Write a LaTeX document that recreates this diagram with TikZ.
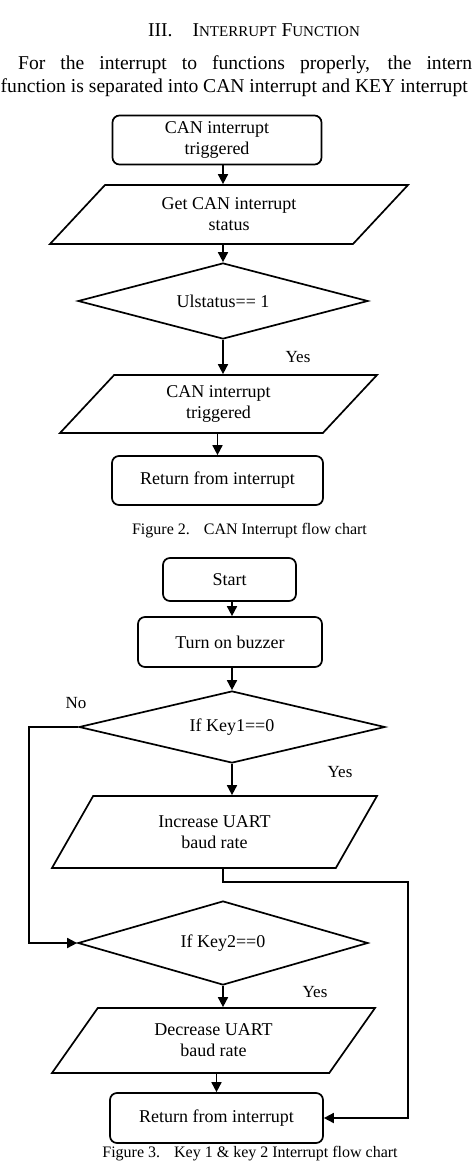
\documentclass[tikz,border=0pt]{standalone}
\usepackage{fontspec}
\setmainfont{Liberation Serif}
\usetikzlibrary{shapes.geometric,arrows.meta}

\newcommand{\flowfont}{\fontsize{18}{21}\selectfont}
\newcommand{\parfont}{\fontsize{19.6}{23}\selectfont}
\newcommand{\capfont}{\fontsize{16}{19}\selectfont}
\newcommand{\smcap}[1]{{\fontsize{15}{18}\selectfont #1}}

\tikzset{
  blockbox/.style={draw,line width=1.7pt,rounded corners=7pt,align=center,font=\flowfont},
  iobox/.style={trapezium,draw,line width=1.7pt,trapezium stretches body,align=center,font=\flowfont,inner sep=2pt},
  testbox/.style={diamond,draw,line width=1.7pt,aspect=4,inner sep=0pt,font=\flowfont},
  lbl/.style={font=\fontsize{17}{20}\selectfont},
  capnode/.style={anchor=base,font=\capfont,inner sep=0pt},
  arr/.style={line width=1.7pt,-{Triangle[length=10pt,width=10pt]}}
}

\begin{document}
\begin{tikzpicture}[x=1pt,y=-1pt]
  \useasboundingbox (0,0) rectangle (474,1161);
  \clip (0,0) rectangle (474,1161);

  % heading and paragraph
  \node (sect) [anchor=base,inner sep=0pt] at (254,37) {\parfont III.\hspace{20pt}I\smcap{NTERRUPT} F\smcap{UNCTION}};
  \node (para1) [anchor=base west,inner sep=0pt] at (18,70) {\parfont\makebox[454pt][s]{For the interrupt to functions properly, the intern}};
  \node (para2) [anchor=base west,inner sep=0pt] at (0.5,93) {\parfont function is separated into CAN interrupt and KEY interrupt};

  % CAN interrupt chart
  \node (canint) [blockbox,minimum width=209pt,minimum height=49pt] at (217,140) {CAN interrupt\\triggered};
  \node (getst) [iobox,trapezium left angle=34,trapezium right angle=146,minimum width=358pt,minimum height=59pt] at (229,214.5) {Get CAN interrupt\\status};
  \node (ulst) [testbox,minimum width=290pt,minimum height=76pt] at (223,301) {Ulstatus== 1};
  \node (cantrig) [iobox,trapezium left angle=37,trapezium right angle=143,minimum width=317pt,minimum height=58pt] at (218.5,404) {CAN interrupt\\triggered};
  \node (ret1) [blockbox,minimum width=211pt,minimum height=49pt] at (217.5,480.5) {Return from interrupt};
  \node (yes1) [lbl] at (298,357) {Yes};
  \node (fig2) [capnode] at (249.5,534) {Figure 2.\hspace{14pt}CAN Interrupt flow chart};

  \draw[arr] (canint.south -| ulst.north) -- (getst.north -| ulst.north);
  \draw[arr] (getst.south -| ulst.north) -- (ulst.north);
  \draw[arr] (ulst.south) -- (cantrig.north -| ulst.south);
  \draw[arr] (cantrig.south -| ret1.north) -- (ret1.north);

  % key interrupt chart
  \node (start) [blockbox,minimum width=133pt,minimum height=43pt] at (229.5,579.5) {Start};
  \node (buzzer) [blockbox,minimum width=184pt,minimum height=50pt] at (230,642) {Turn on buzzer};
  \node (key1) [testbox,minimum width=306pt,minimum height=72pt] at (232,727) {If Key1==0};
  \node (incbaud) [iobox,trapezium left angle=42,trapezium right angle=138,minimum width=325pt,minimum height=72pt] at (214.5,832) {Increase UART\\baud rate};
  \node (key2) [testbox,minimum width=290pt,minimum height=84pt] at (223,943) {If Key2==0};
  \node (decbaud) [iobox,trapezium left angle=39,trapezium right angle=141,minimum width=323pt,minimum height=65pt] at (213.5,1040.5) {Decrease UART\\baud rate};
  \node (ret2) [blockbox,minimum width=213pt,minimum height=50pt] at (216.5,1118) {Return from interrupt};
  \node (no1) [lbl] at (76,703) {No};
  \node (yes2) [lbl] at (340,772) {Yes};
  \node (yes3) [lbl] at (315,992) {Yes};
  \node (fig3) [capnode] at (250,1157) {Figure 3.\hspace{14pt}Key 1 \& key 2 Interrupt flow chart};

  \coordinate (nocol) at (29,728);
  \coordinate (skip) at (408,882);

  \draw[arr] (start.south -| key1.north) -- (buzzer.north -| key1.north);
  \draw[arr] (buzzer.south -| key1.north) -- (key1.north);
  \draw[arr] (key1.south) -- (incbaud.north -| key1.south);
  \draw[arr] (key1.west) -- (key1.west -| nocol) |- (key2.west);
  \draw[arr] (incbaud.south -| key2.north) |- (skip) |- (ret2.east);
  \draw[arr] (key2.south) -- (decbaud.north -| key2.south);
  \draw[arr] (decbaud.south -| ret2.north) -- (ret2.north);
\end{tikzpicture}
\end{document}
